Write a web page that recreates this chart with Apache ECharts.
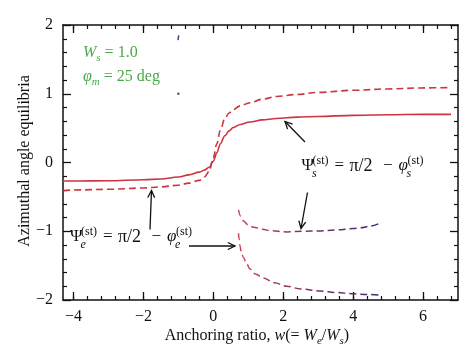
<!DOCTYPE html>
<html><head><meta charset="utf-8">
<script src="https://cdn.jsdelivr.net/npm/echarts@6/dist/echarts.min.js"></script>
<style>html,body{margin:0;padding:0;background:#fff}#c{width:474px;height:364px}</style>
</head><body><div id="c"></div>
<script>
// ---- data ----
const xTickLabels = [-4, -2, 0, 2, 4, 6];
const wMain = [-4.3,-4,-3,-2,-1.5,-1,-0.7,-0.4,-0.25,-0.12,0,0.1,0.2,0.33,0.45,0.57,0.75,1.05,1.4,1.8,2.4,3,4,5,6,6.8];
const solidCurve = [-0.27,-0.27,-0.265,-0.25,-0.24,-0.21,-0.18,-0.14,-0.11,-0.07,0.02,0.14,0.27,0.39,0.46,0.51,0.55,0.59,0.62,0.64,0.66,0.67,0.685,0.695,0.70,0.70];
const dashedCurve = [-0.41,-0.40,-0.39,-0.37,-0.355,-0.33,-0.30,-0.26,-0.21,-0.13,0.07,0.27,0.47,0.64,0.72,0.77,0.82,0.87,0.92,0.96,0.99,1.02,1.05,1.07,1.085,1.09];
const wBranchA = [0.72,0.78,0.86,1.0,1.15,1.4,1.62,2.1,2.58,3.0,3.54,4.0,4.21,4.5,4.73];
const branchA  = [-0.69,-0.78,-0.85,-0.91,-0.94,-0.97,-0.99,-1.01,-1.0,-0.995,-0.98,-0.96,-0.95,-0.925,-0.89];
const wBranchB = [0.72,0.74,0.76,0.8,0.86,0.95,1.05,1.2,1.43,1.75,2.1,2.5,3.06,3.5,4.01,4.4,4.78];
const branchB  = [-1.03,-1.12,-1.21,-1.3,-1.38,-1.47,-1.55,-1.62,-1.68,-1.75,-1.80,-1.84,-1.87,-1.89,-1.91,-1.92,-1.93];
const strayMarkW = [-0.99, -1.01];
const strayMarkY = [1.85, 1.78];
const strayDotW = [-1.0];
const strayDotY = [1.0];

// ---- styling ----
const SERIF = '"Liberation Serif", "DejaVu Serif", serif';
const RED = '#cc3440';
const GREEN = '#4aa94a';
const INK = '#111';
const zip = (a, b) => a.map((v, i) => [v, b[i]]);
const minorX = [];
for (let v = -4; v <= 6.85; v += 0.4) minorX.push(Math.round(v * 10) / 10);

const grad = {type: 'linear', x: 0, y: 0, x2: 1, y2: 0,
  colorStops: [{offset: 0, color: '#d24452'}, {offset: 0.45, color: '#8a3064'}, {offset: 1, color: '#3a2f72'}]};

function T(x, y, text, size, italic, color, align) {
  return {type: 'text', x: x, y: y, z: 100, silent: true,
    style: {text: text, fontSize: size, fontFamily: SERIF, fontStyle: italic ? 'italic' : 'normal',
      fill: color || INK, align: align || 'left', verticalAlign: 'middle'}};
}
function arrow(x1, y1, x2, y2) {
  const a = Math.atan2(y2 - y1, x2 - x1), L = 8, h = 0.45;
  const p1 = [x2 - L * Math.cos(a - h), y2 - L * Math.sin(a - h)];
  const p2 = [x2 - L * Math.cos(a + h), y2 - L * Math.sin(a + h)];
  return [
    {type: 'line', z: 100, silent: true, shape: {x1, y1, x2, y2}, style: {stroke: INK, lineWidth: 1.3}},
    {type: 'polyline', z: 100, silent: true, shape: {points: [p1, [x2, y2], p2]}, style: {stroke: INK, lineWidth: 1.3, fill: null}}
  ];
}
const rich = {
  n: {fontSize: 16, fontFamily: SERIF, lineHeight: 22},
  i: {fontSize: 16, fontFamily: SERIF, fontStyle: 'italic', lineHeight: 22},
  sub: {fontSize: 11, fontFamily: SERIF, fontStyle: 'italic', verticalAlign: 'bottom'}
};
function R(x, y, text, color, align, extra) {
  const r = {};
  for (const k in rich) r[k] = Object.assign({}, rich[k], {fill: color || INK});
  return Object.assign({type: 'text', x, y, z: 100, silent: true,
    style: {text, rich: r, fill: color || INK, align: align || 'left', verticalAlign: 'middle', fontFamily: SERIF}}, extra || {});
}
// formula "Ψ_k^(st) = π/2 − φ_k^(st)" built from pieces
function formula(x0, yc, k) {
  return [
    T(x0, yc, 'Ψ', 17, false),
    T(x0 + 11, yc - 4.5, '(st)', 12, false),
    T(x0 + 10.5, yc + 8, k, 12, true),
    T(x0 + 33, yc + 0.5, '=', 17, false),
    T(x0 + 48, yc + 0.5, 'π/2', 18, false),
    T(x0 + 81.5, yc + 0.5, '−', 17, false),
    T(x0 + 97, yc + 0.5, 'φ', 17, true),
    T(x0 + 106, yc - 4.5, '(st)', 12, false),
    T(x0 + 105, yc + 8, k, 12, true)
  ];
}

const graphic = [].concat(
  [R(83, 53, '{i|W}{sub|s}{n| = 1.0}', GREEN),
   R(83, 77, '{i|φ}{sub|m}{n| = 25 deg}', GREEN),
   R(257, 336, '{n|Anchoring ratio, }{i|w}{n|(= }{i|W}{sub|e}{n|/}{i|W}{sub|s}{n|)}', INK, 'center'),
   Object.assign(T(25, 161, 'Azimuthal angle equilibria', 16, false, INK, 'center'), {rotation: Math.PI / 2})
  ],
  formula(301.5, 165.5, 's'),
  formula(70, 236.5, 'e'),
  arrow(305, 142, 285, 121.5),
  arrow(307.5, 192.5, 301, 228.5),
  arrow(150, 229.5, 151.5, 190.5),
  arrow(189, 246, 235, 246)
);

const axisLineStyle = {show: true, onZero: false, lineStyle: {color: INK, width: 1.5}};
const fmt = v => (v < 0 ? '\u2212' + Math.abs(v) : String(v));
const X = {min: -4.3, max: 7.0, type: 'value', gridIndex: 0, splitLine: {show: false}};
const xAxes = [
  Object.assign({}, X, {position: 'bottom', axisLine: axisLineStyle,
    axisTick: {show: true, inside: true, length: 8, customValues: xTickLabels, lineStyle: {color: INK, width: 1.3}},
    axisLabel: {show: true, customValues: xTickLabels, formatter: fmt, margin: 9, color: INK, fontSize: 16, fontFamily: SERIF}}),
  Object.assign({}, X, {position: 'bottom', axisLine: {show: false, onZero: false},
    axisTick: {show: true, inside: true, length: 4, customValues: minorX, lineStyle: {color: INK, width: 1.2}},
    axisLabel: {show: false}}),
  Object.assign({}, X, {position: 'top', axisLine: axisLineStyle,
    axisTick: {show: true, inside: true, length: 8, customValues: xTickLabels, lineStyle: {color: INK, width: 1.3}},
    axisLabel: {show: false}}),
  Object.assign({}, X, {position: 'top', axisLine: {show: false, onZero: false},
    axisTick: {show: true, inside: true, length: 4, customValues: minorX, lineStyle: {color: INK, width: 1.2}},
    axisLabel: {show: false}})
];
const Y = {type: 'value', min: -2, max: 2, interval: 1, splitLine: {show: false}, axisLine: axisLineStyle,
  axisTick: {show: true, inside: true, length: 8, lineStyle: {color: INK, width: 1.3}},
  minorTick: {show: true, splitNumber: 5, length: 4, lineStyle: {color: INK, width: 1.2}}};
const yAxes = [
  Object.assign({}, Y, {position: 'left',
    axisLabel: {show: true, formatter: fmt, margin: 10, color: INK, fontSize: 16, fontFamily: SERIF}}),
  Object.assign({}, Y, {position: 'right', axisLabel: {show: false}})
];

const base = {type: 'line', xAxisIndex: 0, yAxisIndex: 0, showSymbol: false, symbol: 'none',
  smooth: 0.35, smoothMonotone: 'x', silent: true, animation: false};
const series = [
  Object.assign({}, base, {name: 'solid', data: zip(wMain, solidCurve), lineStyle: {color: RED, width: 1.6}}),
  Object.assign({}, base, {name: 'dashed', data: zip(wMain, dashedCurve), lineStyle: {color: RED, width: 1.6, type: [7, 4]}}),
  Object.assign({}, base, {name: 'branchA', data: zip(wBranchA, branchA), lineStyle: {color: grad, width: 1.5, type: [7, 4]}}),
  Object.assign({}, base, {name: 'branchB', data: zip(wBranchB, branchB), lineStyle: {color: grad, width: 1.5, type: [7, 4]}}),
  Object.assign({}, base, {name: 'mark', smooth: false, data: zip(strayMarkW, strayMarkY), lineStyle: {color: '#5a3a80', width: 1.5}}),
  {type: 'scatter', xAxisIndex: 0, yAxisIndex: 0, data: zip(strayDotW, strayDotY), symbol: 'circle', symbolSize: 2.5,
    itemStyle: {color: '#333'}, silent: true, animation: false}
];

const chart = echarts.init(document.getElementById('c'), null, {renderer: 'canvas'});
chart.setOption({
  animation: false,
  backgroundColor: '#fff',
  grid: {left: 63, right: 16, top: 25, bottom: 64, containLabel: false},
  xAxis: xAxes,
  yAxis: yAxes,
  series: series,
  graphic: graphic
});
</script></body></html>
